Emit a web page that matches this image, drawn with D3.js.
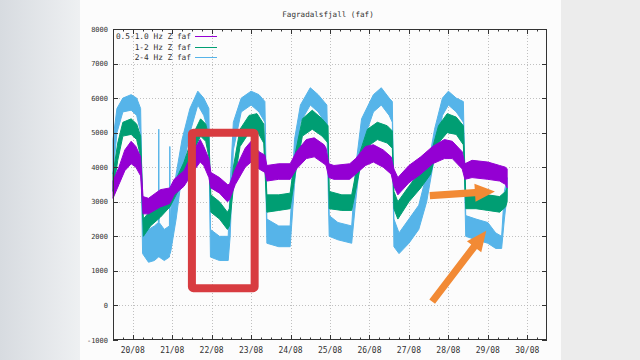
<!DOCTYPE html>
<html><head><meta charset="utf-8">
<script src="https://cdn.jsdelivr.net/npm/d3@7"></script>
<style>html,body{margin:0;padding:0;background:#f0f0f0;}svg{display:block;}</style>
</head><body>
<svg id="c" width="640" height="360"></svg>
<script>
// ---- data (time as fractional day of August 2021) ----
const title = "Fagradalsfjall (faf)";
const seriesNames = ["0.5-1.0 Hz Z faf", "1-2 Hz Z faf", "2-4 Hz Z faf"];
const seriesColors = ["#9400d3", "#009e73", "#56b4e9"];
const yTicks = [-1000, 0, 1000, 2000, 3000, 4000, 5000, 6000, 7000, 8000];

const purpleT  = [19.50,19.65,19.80,19.96,20.08,20.20,20.26,20.40,20.70,20.94,21.05,21.30,21.55,21.71,21.80,21.93,21.98,22.20,22.40,22.45,22.60,22.85,23.00,23.20,23.35,23.40,23.70,23.99,24.15,24.40,24.60,24.85,24.90,24.97,25.10,25.50,25.65,25.90,26.10,26.35,26.55,26.62,26.72,27.00,27.30,27.60,27.90,28.10,28.35,28.42,28.60,29.00,29.30,29.45,29.49];
const purpleLo = [3100,3500,3900,4100,4000,3750,2650,2650,2850,2950,3200,3450,3900,4150,4050,3700,3400,3250,3000,3050,3500,4000,4150,3950,3850,3600,3650,3650,3950,4250,4300,4100,4050,3700,3650,3650,3800,4050,4150,4000,3800,3450,3200,3550,3800,4100,4250,4250,3950,3650,3700,3650,3600,3500,3400];
const purpleHi = [3600,4000,4500,4750,4600,4300,3150,3100,3350,3400,3650,3900,4500,4800,4600,4250,3850,3700,3500,3500,3950,4550,4750,4450,4350,4050,4100,4100,4450,4800,4850,4650,4550,4100,4050,4100,4250,4600,4650,4500,4300,3950,3700,4050,4300,4600,4800,4750,4450,4100,4200,4150,4050,4000,3950];

const greenT  = [19.50,19.62,19.75,19.96,20.10,20.20,20.27,20.45,20.70,20.94,21.10,21.30,21.55,21.72,21.85,21.93,21.98,22.20,22.40,22.45,22.55,22.72,22.95,23.15,23.32,23.40,23.70,23.99,24.12,24.30,24.55,24.80,24.95,24.98,25.30,25.55,25.75,25.95,26.20,26.45,26.58,26.62,26.72,27.00,27.30,27.55,27.75,27.97,28.20,28.38,28.44,28.70,29.00,29.30,29.45,29.49];
const greenLo = [3300,4200,4900,4950,4800,4300,2000,2300,2550,2850,3200,3650,4500,4900,4750,4300,2700,2500,2200,2300,3400,4600,5000,5050,4700,2700,2750,2800,3800,4900,5100,4900,4700,2800,2750,2750,3900,4600,4800,4700,4550,2800,2500,3000,3400,3800,4700,5000,4950,4650,2800,2800,2750,2700,2850,3000];
const greenHi = [3800,4700,5300,5400,5250,4900,2500,2750,3000,3250,3650,4150,5000,5400,5250,4900,3200,3000,2700,2800,4000,5100,5500,5550,5250,3200,3200,3250,4400,5400,5650,5400,5200,3300,3200,3200,4400,5100,5300,5200,5050,3300,3000,3450,3900,4350,5200,5550,5450,5200,3250,3200,3200,3150,3300,3400];

const blueT  = [19.50,19.60,19.75,19.96,20.10,20.20,20.25,20.40,20.55,20.650,20.660,20.670,20.80,20.930,20.940,20.950,20.97,21.10,21.25,21.45,21.65,21.80,21.93,21.97,22.20,22.42,22.47,22.55,22.75,23.00,23.20,23.35,23.40,23.70,23.99,24.10,24.25,24.50,24.70,24.92,24.98,25.20,25.55,25.65,25.80,26.10,26.30,26.50,26.58,26.62,26.75,27.00,27.25,27.45,27.65,27.85,28.00,28.20,28.38,28.44,28.70,29.00,29.20,29.35,29.42,29.49];
const blueLo = [3800,5000,5600,5650,5500,5000,1500,1250,1300,1400,1400,1400,1300,1400,1500,1500,1600,2500,3800,5000,5800,5500,5000,1400,1300,1300,2000,4500,5600,5800,5600,5300,1800,1700,1700,3500,5300,5800,5600,5200,2000,1900,1800,3000,4600,5600,5800,5500,5300,1700,1500,1800,2200,3000,4300,5500,5800,5600,5300,2000,1900,1800,1650,1650,2500,3200];
const blueHi = [4800,5700,6000,6100,6000,5700,2500,2200,2300,2400,5100,2400,2200,2300,4600,2300,2800,3800,4800,5700,6200,6000,5700,2200,2000,2000,3500,5300,6000,6200,6100,5900,2500,2300,2300,4800,5800,6300,6100,5800,2600,2400,2300,4000,5400,6100,6300,6000,5900,2500,2100,2500,2900,3800,5100,6000,6200,6000,5900,2600,2500,2400,2100,2000,3300,3700];

// annotations (data coordinates)
const boxT = [21.50, 23.09];
const boxV = [500, 5000];
const arrowFromT = [27.53, 27.59];
const arrowFromV = [3180, 110];
const arrowToT   = [29.18, 28.96];
const arrowToV   = [3300, 2160];

// ---- drawing ----
const W = 640, H = 360;
const svg = d3.select("#c");
const day = d => new Date(Date.UTC(2021, 7, 1) + (d - 1) * 86400000);

// backdrop
const defs = svg.append("defs");
const lg = defs.append("linearGradient").attr("id","lg").attr("x1","0").attr("x2","1");
lg.append("stop").attr("offset","0").attr("stop-color","#d7dbe0");
lg.append("stop").attr("offset","1").attr("stop-color","#eef0f2");
svg.append("rect").attr("width",W).attr("height",H).attr("fill","#ececec");
svg.append("rect").attr("x",0).attr("y",0).attr("width",80).attr("height",H).attr("fill","url(#lg)");
svg.append("rect").attr("x",80).attr("y",0).attr("width",481).attr("height",H).attr("fill","#fcfcfc");

const L = 113, R = 547, T = 29, B = 340;
const x = d3.scaleUtc().domain([day(19.5), day(30.5)]).range([L, R]);
const y = d3.scaleLinear().domain([-1000, 8000]).range([B, T]);

const font = "DejaVu Sans Mono, monospace";

// grid
const g = svg.append("g");
const days = d3.utcDay.range(day(20), day(30.6));
g.selectAll("line.gx").data(days).join("line")
  .attr("x1", d => Math.round(x(d)) + 0.5).attr("x2", d => Math.round(x(d)) + 0.5)
  .attr("y1", T).attr("y2", B)
  .attr("stroke", "#b0b0b0").attr("stroke-width", 0.8).attr("stroke-dasharray", "1,2");
g.selectAll("line.gy").data(yTicks.slice(1, -1)).join("line")
  .attr("y1", d => Math.round(y(d)) + 0.5).attr("y2", d => Math.round(y(d)) + 0.5)
  .attr("x1", L).attr("x2", R)
  .attr("stroke", "#b0b0b0").attr("stroke-width", 0.8).attr("stroke-dasharray", "1,2");

// series bands (drawn blue, green, purple so the lower-frequency bands stay visible)
const series = [
  {t: blueT, lo: blueLo, hi: blueHi, c: seriesColors[2]},
  {t: greenT, lo: greenLo, hi: greenHi, c: seriesColors[1]},
  {t: purpleT, lo: purpleLo, hi: purpleHi, c: seriesColors[0]}
];
const area = d3.area().x(d => x(day(d.t))).y0(d => y(d.lo)).y1(d => y(d.hi));
series.forEach(s => {
  const pts = s.t.map((t, i) => ({t, lo: s.lo[i], hi: s.hi[i]}));
  svg.append("path").datum(pts).attr("d", area)
    .attr("fill", s.c).attr("stroke", s.c).attr("stroke-width", 1).attr("stroke-linejoin","round");
});

// frame
svg.append("rect").attr("x", L + 0.5).attr("y", T + 0.5).attr("width", R - L - 1).attr("height", B - T - 1)
  .attr("fill", "none").attr("stroke", "#333").attr("stroke-width", 1);

// ticks
const minor = d3.utcHour.every(6).range(day(19.5), day(30.5)).filter(d => d.getUTCHours() !== 0);
const tk = svg.append("g").attr("stroke", "#333").attr("stroke-width", 1);
days.forEach(d => {
  const xx = Math.round(x(d)) + 0.5;
  tk.append("line").attr("x1", xx).attr("x2", xx).attr("y1", B).attr("y2", B - 5);
  tk.append("line").attr("x1", xx).attr("x2", xx).attr("y1", T).attr("y2", T + 5);
});
minor.forEach(d => {
  const xx = Math.round(x(d)) + 0.5;
  tk.append("line").attr("x1", xx).attr("x2", xx).attr("y1", B).attr("y2", B - 2.5);
  tk.append("line").attr("x1", xx).attr("x2", xx).attr("y1", T).attr("y2", T + 2.5);
});
yTicks.forEach(v => {
  const yy = Math.round(y(v)) + 0.5;
  tk.append("line").attr("x1", L).attr("x2", L + 5).attr("y1", yy).attr("y2", yy);
  tk.append("line").attr("x1", R).attr("x2", R - 5).attr("y1", yy).attr("y2", yy);
});

// tick labels
svg.append("g").selectAll("text").data(days).join("text")
  .attr("x", d => x(d)).attr("y", 353).attr("text-anchor", "middle")
  .attr("font-family", font).attr("font-size", 8).attr("fill", "#333")
  .text(d3.utcFormat("%d/%m"));
svg.append("g").selectAll("text").data(yTicks).join("text")
  .attr("x", 108).attr("y", d => y(d) + 2.5).attr("text-anchor", "end")
  .attr("font-family", font).attr("font-size", 7).attr("fill", "#333")
  .text(d => d);

// title
svg.append("text").attr("x", 328).attr("y", 17).attr("text-anchor", "middle")
  .attr("font-family", font).attr("font-size", 7.6).attr("fill", "#333").text(title);

// legend
seriesNames.forEach((n, i) => {
  const ly = Math.round(36 + i * 10.5) + 0.5;
  svg.append("text").attr("x", 191).attr("y", ly + 2.5).attr("text-anchor", "end")
    .attr("font-family", font).attr("font-size", 7.8).attr("fill", "#333").text(n);
  svg.append("line").attr("x1", 195).attr("x2", 217).attr("y1", ly).attr("y2", ly)
    .attr("stroke", seriesColors[i]).attr("stroke-width", 1);
});

// annotations: red box and orange arrows
svg.append("rect")
  .attr("x", x(day(boxT[0]))).attr("y", y(boxV[1]))
  .attr("width", x(day(boxT[1])) - x(day(boxT[0]))).attr("height", y(boxV[0]) - y(boxV[1]))
  .attr("fill", "none").attr("stroke", "#d83c40").attr("stroke-width", 8).attr("rx", 1.5);

const orange = "#f28a35";
arrowFromT.forEach((t0, i) => {
  const x0 = x(day(t0)), y0 = y(arrowFromV[i]);
  const x1 = x(day(arrowToT[i])), y1 = y(arrowToV[i]);
  const ang = Math.atan2(y1 - y0, x1 - x0);
  const headLen = 20, headW = 9, shaft = 3.6;
  const bx = x1 - headLen * Math.cos(ang), by = y1 - headLen * Math.sin(ang);
  const nx = -Math.sin(ang), ny = Math.cos(ang);
  const p = [
    [x0 + nx * shaft, y0 + ny * shaft],
    [bx + nx * shaft, by + ny * shaft],
    [bx + nx * headW, by + ny * headW],
    [x1, y1],
    [bx - nx * headW, by - ny * headW],
    [bx - nx * shaft, by - ny * shaft],
    [x0 - nx * shaft, y0 - ny * shaft]
  ];
  svg.append("path").attr("d", d3.line()(p) + "Z").attr("fill", orange);
});
</script>
</body></html>
